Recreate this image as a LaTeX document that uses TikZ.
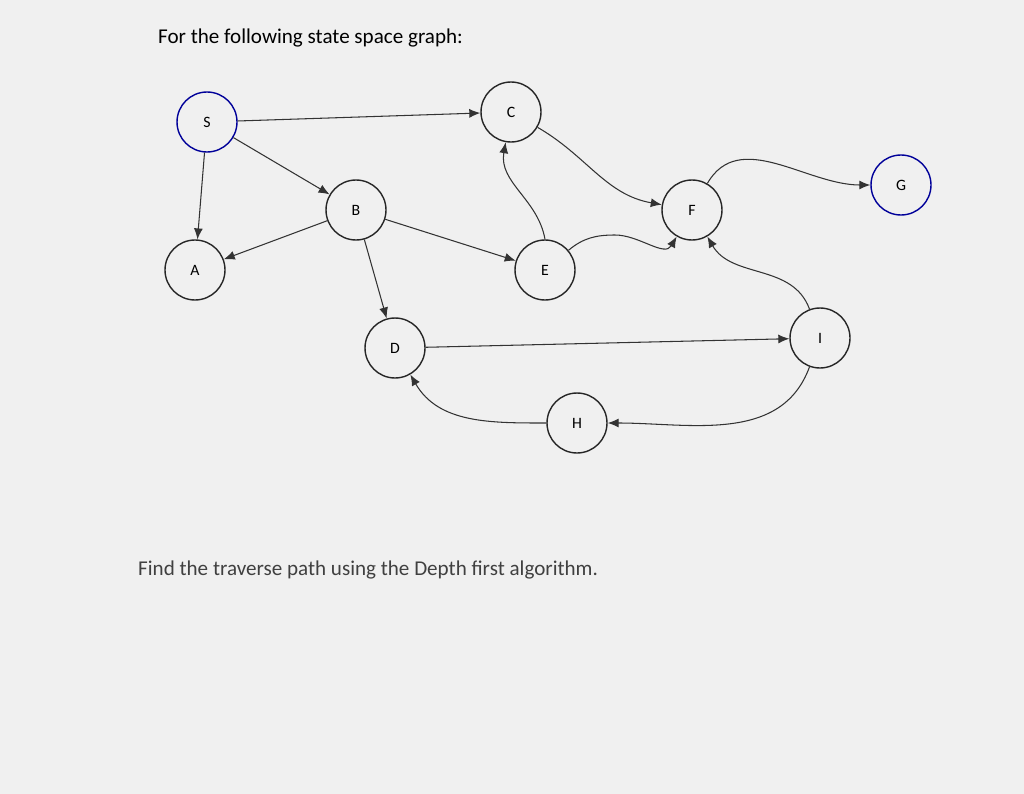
\documentclass[tikz,border=0pt]{standalone}
\usepackage{fontspec}
\setmainfont{Carlito}
\usetikzlibrary{arrows.meta}

\tikzset{state/.style={circle, draw=black!85, thick, minimum size=1.2cm, inner sep=0pt, font=\small},
  goal/.style={state, draw=blue!60!black},
  edge/.style={-{Latex[length=2.2mm,width=1.8mm]}, black!80, semithick}}

\begin{document}
\begin{tikzpicture}[x=0.02cm, y=-0.02cm]
  \fill[gray!12] (0,0) rectangle (1024,794);
  \node[anchor=west, font=\large] (title) at (152,38) {For the following state space graph:};
  \node[anchor=west, font=\large, black!75] (task) at (132,570) {Find the traverse path using the Depth first algorithm.};
  % states
  \node[goal]  (S) at (207,122) {S};
  \node[state] (C) at (511,112) {C};
  \node[state] (B) at (356,210) {B};
  \node[state] (F) at (692,210) {F};
  \node[goal]  (G) at (901,185) {G};
  \node[state] (A) at (195,270) {A};
  \node[state] (E) at (545,270) {E};
  \node[state] (D) at (395,348) {D};
  \node[state] (I) at (820,338) {I};
  \node[state] (H) at (577,423) {H};
  % edges
  \draw[edge] (S) -- (C);
  \draw[edge] (S) -- (B);
  \draw[edge] (S) -- (A);
  \draw[edge] (B) -- (A);
  \draw[edge] (B) -- (E);
  \draw[edge] (B) -- (D);
  \draw[edge] (D) -- (I);
  \draw[edge] (C) to[out=-30, in=170] (F);
  \draw[edge] (E.north) to[out=100, in=-100] (C);
  \draw[edge] (E) to[out=40, in=180] (615,235) to[out=0, in=-120] (F);
  \draw[edge] (F) to[out=60, in=180] (G);
  \draw[edge] (I) to[out=110, in=-60] (F);
  \draw[edge] (I) to[out=-110, in=0] (H);
  \draw[edge] (H) to[out=180, in=-60] (D);
\end{tikzpicture}
\end{document}
